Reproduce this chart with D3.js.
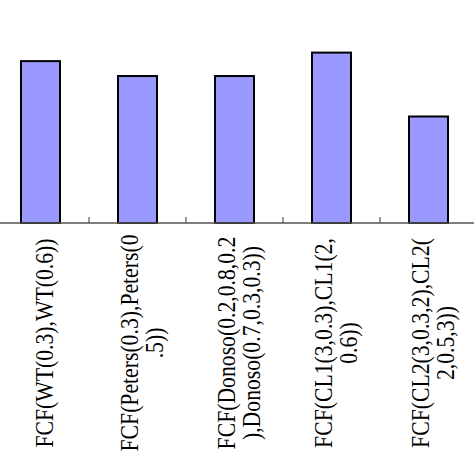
<!DOCTYPE html>
<html>
<head>
<meta charset="utf-8">
<script src="https://cdn.jsdelivr.net/npm/d3@7"></script>
<style>
  body { margin: 0; background: #fff; }
  svg { display: block; }
</style>
</head>
<body>
<div class="chart"></div>
<script>
// data (no y axis visible, values relative)
const categories = [
  "FCF(WT(0.3),WT(0.6))",
  "FCF(Peters(0.3),Peters(0.5))",
  "FCF(Donoso(0.2,0.8,0.2),Donoso(0.7,0.3,0.3))",
  "FCF(CL1(3,0.3),CL1(2,0.6))",
  "FCF(CL2(3,0.3,2),CL2(2,0.5,3))"
];
const labelLines = [
  ["FCF(WT(0.3),WT(0.6))"],
  ["FCF(Peters(0.3),Peters(0", ".5))"],
  ["FCF(Donoso(0.2,0.8,0.2", "),Donoso(0.7,0.3,0.3))"],
  ["FCF(CL1(3,0.3),CL1(2,", "0.6))"],
  ["FCF(CL2(3,0.3,2),CL2(", "2,0.5,3))"]
];
const values = [0.76, 0.69, 0.69, 0.80, 0.50];

const width = 474, height = 474;
const axisY = 223;

const svg = d3.select(".chart")
  .append("svg")
  .attr("width", width)
  .attr("height", height);

// band scale: ticks sit between bands at 89, 186, 283, 380
const x = d3.scaleBand()
  .domain(categories)
  .range([-8, 477])
  .paddingInner(0)
  .paddingOuter(0);

const y = d3.scaleLinear()
  .domain([0, 1])
  .range([axisY, axisY - 213]);

const barW = 39;

svg.selectAll(".bar")
  .data(values)
  .enter()
  .append("rect")
    .attr("class", "bar")
    .attr("x", (d, i) => x(categories[i]) + x.bandwidth() / 2 - barW / 2)
    .attr("y", d => y(d))
    .attr("width", barW)
    .attr("height", d => y(0) - y(d))
    .attr("fill", "#9999ff")
    .attr("stroke", "#000")
    .attr("stroke-width", 2);

// x axis line
svg.append("line")
  .attr("x1", 0).attr("x2", width)
  .attr("y1", axisY).attr("y2", axisY)
  .attr("stroke", "#555")
  .attr("stroke-width", 1.5);

// tick marks between categories, pointing up
svg.selectAll(".tick")
  .data(categories.slice(1))
  .enter()
  .append("line")
    .attr("class", "tick")
    .attr("x1", d => x(d)).attr("x2", d => x(d))
    .attr("y1", axisY).attr("y2", axisY - 6)
    .attr("stroke", "#555")
    .attr("stroke-width", 1.2);

// rotated labels (text in the original is condensed along its run)
const fs = 26, lh = 25, squeeze = 0.835;
const labels = svg.selectAll(".lab")
  .data(labelLines)
  .enter()
  .append("text")
    .attr("class", "lab")
    .attr("transform", (d, i) => {
      const cx = x(categories[i]) + x.bandwidth() / 2;
      return "translate(" + cx + "," + 343 + ") rotate(-90) scale(" + squeeze + ",1)";
    })
    .attr("text-anchor", "middle")
    .attr("font-family", "'Liberation Serif', 'Times New Roman', serif")
    .attr("font-size", fs + "px")
    .attr("fill", "#000");

labels.each(function(lines) {
  const t = d3.select(this);
  const off = -(lines.length - 1) * lh / 2;
  lines.forEach((s, j) => {
    t.append("tspan")
      .attr("x", 0)
      .attr("y", off + j * lh + 12.8)
      .text(s);
  });
});
</script>
</body>
</html>
